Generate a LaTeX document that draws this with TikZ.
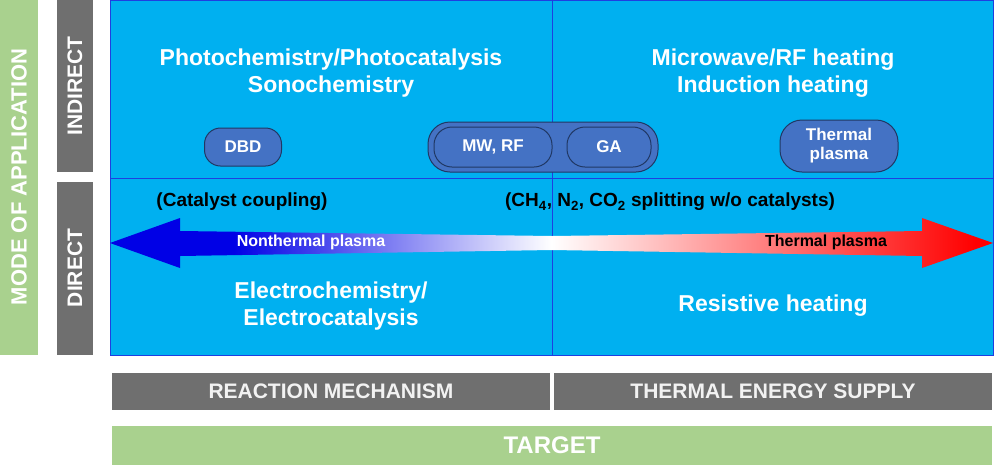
\documentclass[tikz,border=0pt]{standalone}
\usepackage{fontspec}
\setmainfont{Liberation Sans}
\definecolor{bgblue}{HTML}{00B0F0}
\definecolor{pill}{HTML}{4472C4}
\definecolor{pilld}{HTML}{203864}
\definecolor{gbar}{HTML}{6F6F6F}
\definecolor{green}{HTML}{A9D18E}
\definecolor{lineblue}{HTML}{1F3FE0}
\definecolor{arrblue}{HTML}{0000E6}
\definecolor{arrred}{HTML}{FF0000}
\pgfdeclarehorizontalshading{arrshade}{100bp}{color(0bp)=(arrblue); color(32bp)=(arrblue); color(50bp)=(white); color(74bp)=(arrred); color(100bp)=(arrred)}
\tikzset{
  big/.style={text=white,font=\fontsize{23}{27}\selectfont\bfseries,align=center},
  pillbox/.style={draw=pilld,line width=1pt,fill=pill,rounded corners=16pt,text=white,font=\fontsize{17}{19}\selectfont\bfseries,align=center},
  barlabel/.style={text=white,font=\fontsize{21}{23}\selectfont\bfseries},
  captext/.style={text=black,font=\fontsize{19}{22}\selectfont\bfseries}
}
\begin{document}
\begin{tikzpicture}[x=1pt,y=-1pt]
\useasboundingbox (0,0) rectangle (997,467);
\fill[bgblue] (110,0) rectangle (993,355);
\draw[lineblue,line width=1pt] (110,0) rectangle (993,355);
\draw[lineblue,line width=0.8pt] (552,0) -- (552,355);
\draw[lineblue,line width=1pt] (110,178) -- (993,178);
% left bars
\fill[green] (0,0) rectangle (38,355);
\node[barlabel,rotate=90,text=white,font=\fontsize{22}{24}\selectfont\bfseries] (mode) at (19,177) {MODE OF APPLICATION};
\fill[gbar] (57,0) rectangle (93,172);
\node[barlabel,rotate=90] (ind) at (75,86) {INDIRECT};
\fill[gbar] (57,182) rectangle (93,355);
\node[barlabel,rotate=90] (dir) at (75,268) {DIRECT};
% bottom bars
\fill[gbar] (112,373) rectangle (550,410);
\fill[gbar] (554,373) rectangle (992,410);
\node[barlabel,text=white!90!gray] (rm) at (331,391) {REACTION MECHANISM};
\node[barlabel,text=white!90!gray] (te) at (773,391) {THERMAL ENERGY SUPPLY};
\fill[green] (112,426) rectangle (992,465);
\node[barlabel,font=\fontsize{24}{26}\selectfont\bfseries] (tg) at (552,445) {TARGET};
% texts
\node[big] (photo) at (331,73) {Photochemistry/Photocatalysis\\Sonochemistry};
\node[big] (mw) at (773,73) {Microwave/RF heating\\Induction heating};
\node[big] (el) at (331,306) {Electrochemistry/\\Electrocatalysis};
\node[big] (rh) at (773,306) {Resistive heating};
\node[captext] (cat) at (242,202) {(Catalyst coupling)};
\node[captext] (spl) at (670,202) {(CH\textsubscript{4}, N\textsubscript{2}, CO\textsubscript{2} splitting w/o catalysts)};
% pills
\node[pillbox,minimum width=77pt,minimum height=38pt] (dbd) at (243,147) {DBD};
\node[pillbox,minimum width=230pt,minimum height=50pt,rounded corners=22pt] (grp) at (543,147) {};
\node[pillbox,minimum width=118pt,minimum height=40pt,rounded corners=18pt] (mwrf) at (493,147) {MW, RF};
\node[pillbox,minimum width=84pt,minimum height=40pt,rounded corners=18pt] (ga) at (609,147) {GA};
\node[pillbox,minimum width=118pt,minimum height=52pt,rounded corners=22pt] (tp) at (839,146) {Thermal\\plasma};
% arrow
\shade[shading=arrshade]
  (110,243) -- (180,218) -- (180,231) -- (552,236) -- (922,231) -- (922,218) -- (993,243)
  -- (922,268) -- (922,256) -- (552,250) -- (180,256) -- (180,268) -- cycle;
\node[text=white,font=\fontsize{16}{18}\selectfont\bfseries] (nt) at (311,242) {Nonthermal plasma};
\node[text=black,font=\fontsize{16}{18}\selectfont\bfseries] (th) at (826,242) {Thermal plasma};
\end{tikzpicture}
\end{document}
